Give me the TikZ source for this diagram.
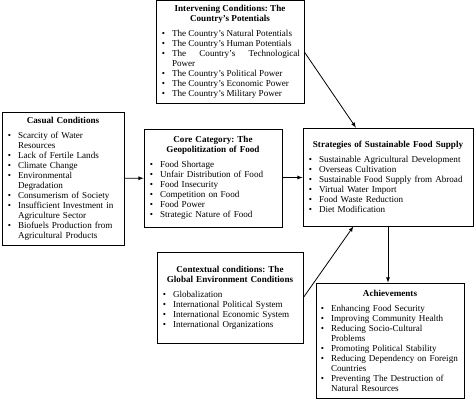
\documentclass[tikz,border=0pt]{standalone}
\usepackage{fontspec}
\setmainfont{Liberation Serif}
\usepackage{enumitem}
\setlist[itemize]{nosep,leftmargin=12pt,labelsep=7pt,label=\textbullet}
\newcommand{\boxtitle}[1]{{\centering\bfseries #1\par}\vspace{5pt}}
\frenchspacing

\begin{document}
\begin{tikzpicture}[x=1pt,y=-1pt,
  box/.style={draw=black,line width=0.8pt,fill=white,inner xsep=4pt,inner ysep=3pt,
    font=\fontsize{9.1}{10}\selectfont,align=left},
  link/.style={line width=0.8pt,-latex}]
\useasboundingbox (0,0) rectangle (474,400);

\node[box,align=justify,text width=140pt,minimum height=103pt] (interv) at (230,52) {%
\boxtitle{Intervening Conditions: The\\Country's Potentials}
\begin{itemize}
\item The Country's Natural Potentials
\item The Country's Human Potentials
\item The Country's Technological Power
\item The Country's Political Power
\item The Country's Economic Power
\item The Country's Military Power
\end{itemize}};

\node[box,text width=114pt,minimum height=133pt] (casual) at (63,178.5) {%
\boxtitle{Casual Conditions}
\begin{itemize}
\item Scarcity of Water Resources
\item Lack of Fertile Lands
\item Climate Change
\item Environmental Degradation
\item Consumerism of Society
\item Insufficient Investment in Agriculture Sector
\item Biofuels Production from Agricultural Products
\end{itemize}};

\node[box,text width=130pt,minimum height=98pt] (core) at (213,178) {%
\boxtitle{Core Category: The\\Geopolitization of Food}
\begin{itemize}
\item Food Shortage
\item Unfair Distribution of Food
\item Food Insecurity
\item Competition on Food
\item Food Power
\item Strategic Nature of Food
\end{itemize}};

\node[box,text width=162pt,minimum height=98pt] (strat) at (388,177) {%
\boxtitle{Strategies of Sustainable Food Supply}
\begin{itemize}
\item Sustainable Agricultural Development
\item Overseas Cultivation
\item Sustainable Food Supply from Abroad
\item Virtual Water Import
\item Food Waste Reduction
\item Diet Modification
\end{itemize}};

\node[box,text width=138pt,minimum height=91pt] (context) at (230,297.5) {%
\boxtitle{Contextual conditions: The\\Global Environment Conditions}
\begin{itemize}
\item Globalization
\item International Political System
\item International Economic System
\item International Organizations
\end{itemize}};

\node[box,text width=142pt,inner xsep=3pt,minimum height=115pt] (achieve) at (390,340.5) {%
\boxtitle{Achievements}
\begin{itemize}
\item Enhancing Food Security
\item Improving Community Health
\item Reducing Socio-Cultural\\Problems
\item Promoting Political Stability
\item Reducing Dependency on Foreign Countries
\item Preventing The Destruction of Natural Resources
\end{itemize}};

% connectors
\draw[link] (casual) -- (core);
\draw[link] (core) -- (strat);
\draw[link] (interv.east) -- (strat.123);
\draw[link] (context.east) -- (strat.235);
\draw[link] (strat.south) -- (strat.south |- achieve.north);

\end{tikzpicture}
\end{document}
